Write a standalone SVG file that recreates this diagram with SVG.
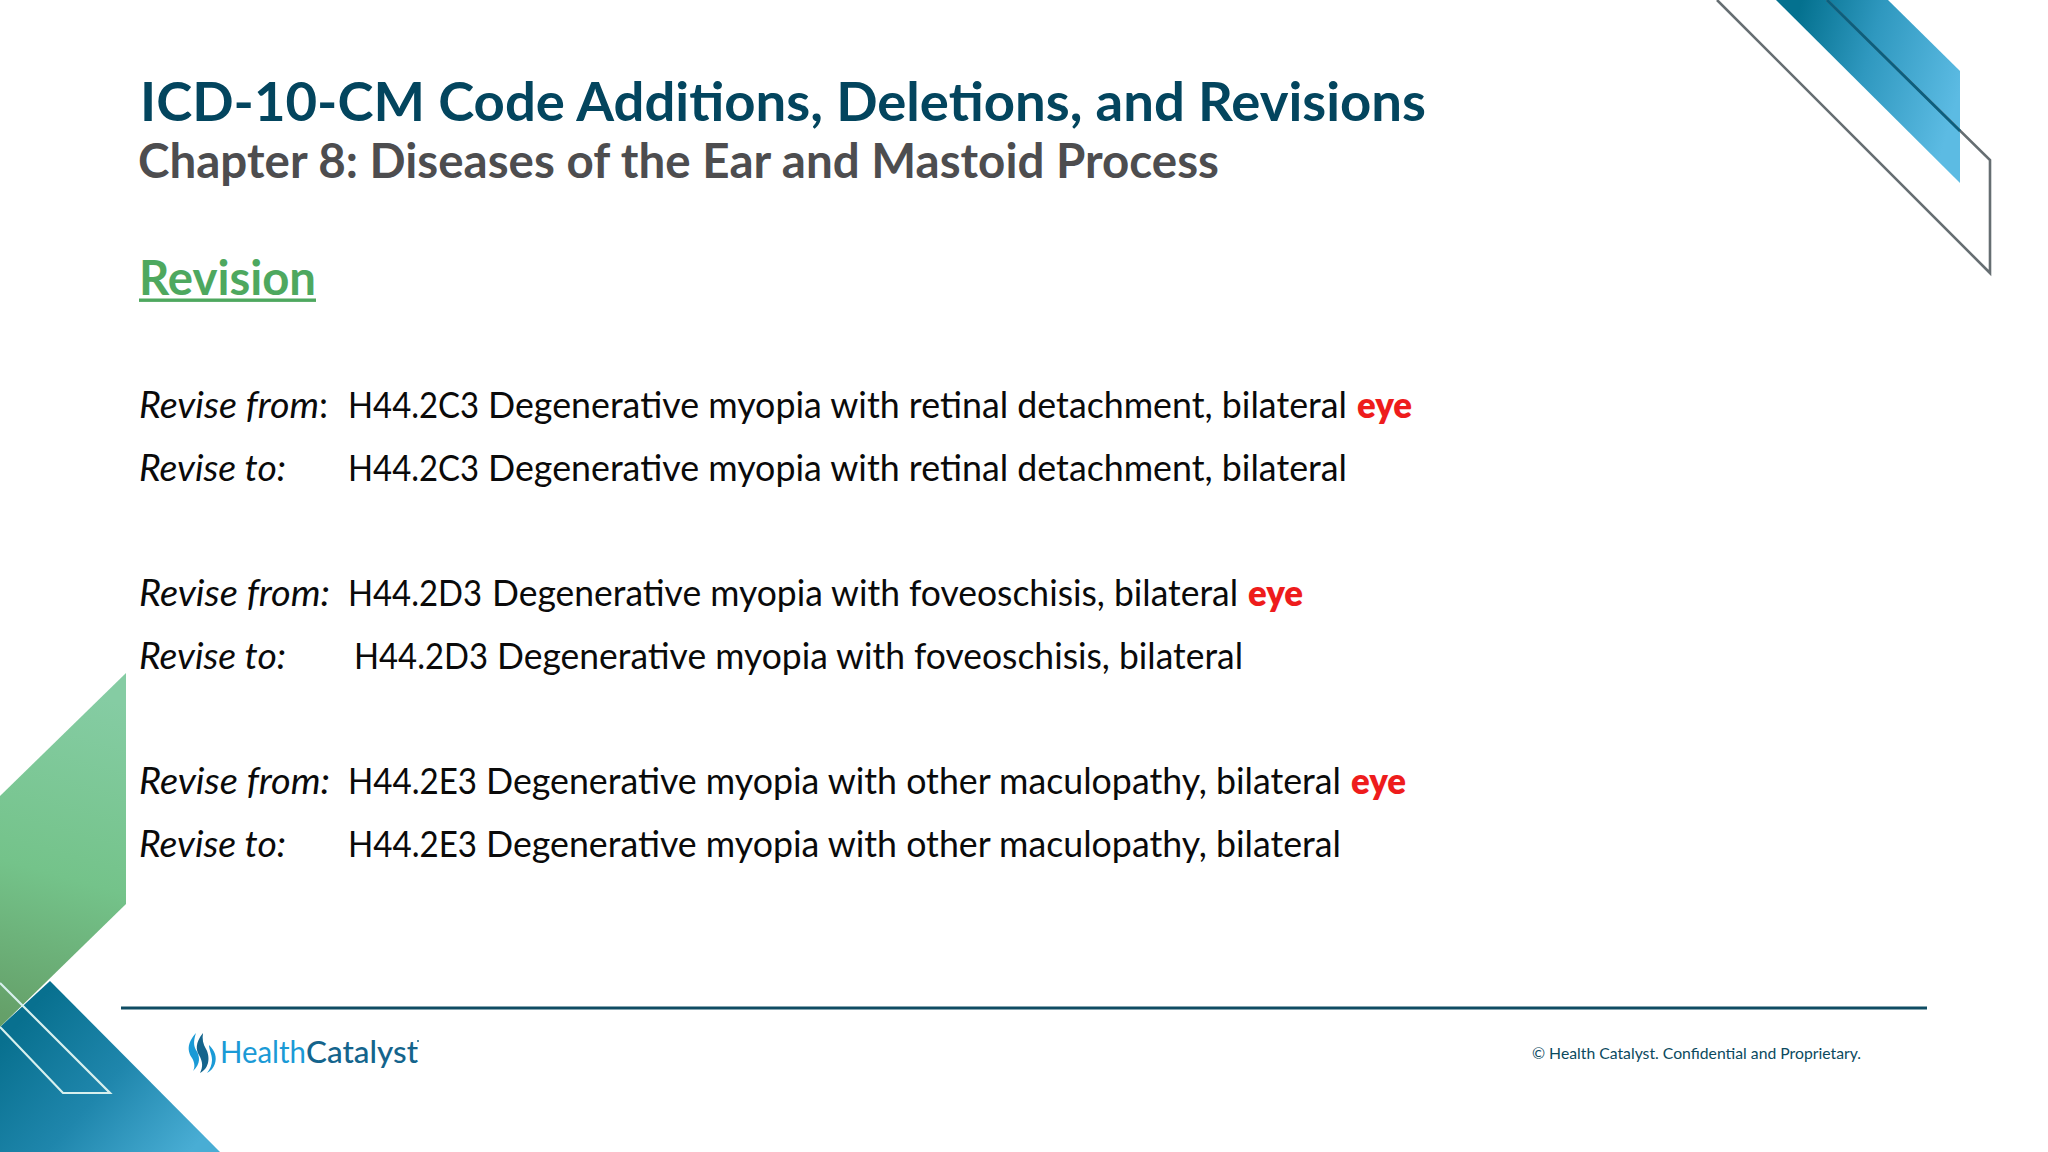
<svg xmlns="http://www.w3.org/2000/svg" width="2048" height="1152" viewBox="0 0 2048 1152">
<defs>
<linearGradient id="gTop" gradientUnits="userSpaceOnUse" x1="1790" y1="40" x2="1960" y2="90"><stop offset="0" stop-color="#04718f"/><stop offset="0.45" stop-color="#2f98bf"/><stop offset="1" stop-color="#5cbbe3"/></linearGradient>
<linearGradient id="gGreen" gradientUnits="userSpaceOnUse" x1="110" y1="700" x2="20" y2="1020"><stop offset="0" stop-color="#85cca3"/><stop offset="0.55" stop-color="#74c38a"/><stop offset="1" stop-color="#65a069"/></linearGradient>
<linearGradient id="gBlue" gradientUnits="userSpaceOnUse" x1="30" y1="1010" x2="190" y2="1152"><stop offset="0" stop-color="#08708f"/><stop offset="0.5" stop-color="#1f86ac"/><stop offset="1" stop-color="#49add4"/></linearGradient>
<style>
text{font-family:"Lato","Carlito","Noto Sans",sans-serif}
.b{font-size:36px;fill:#0a0a0a}
.i{font-size:36px;fill:#0a0a0a;font-style:italic}
.r{font-size:36px;fill:#ee1c1c;font-weight:800}
</style>
</defs>
<rect width="2048" height="1152" fill="#ffffff"/>
<g id="decor-top">
<polygon points="1776,0 1888,0 1960,71 1960,183" fill="url(#gTop)"/>
<polyline points="1717,0 1990,273 1990,160 1827,0" fill="none" stroke="#666e72" stroke-width="2.6"/>
<line x1="1827" y1="0" x2="1960" y2="131" stroke="#0b5f7e" stroke-width="2.6"/>
</g>
<g id="decor-bottom">
<polygon points="50,981 220,1152 0,1152 0,1027" fill="url(#gBlue)"/>
<polygon points="126,673 126,904 0,1027 0,796" fill="url(#gGreen)"/>
<polyline points="0,983 110,1093 63,1093 0,1027" fill="none" stroke="#d8f0ee" stroke-width="2.2"/>
</g>
<g id="heading">
<text x="140" y="121" font-size="54" font-weight="700" fill="#03455e" textLength="1286" lengthAdjust="spacingAndGlyphs">ICD-10-CM Code Additions, Deletions, and Revisions</text>
<text x="138" y="178" font-size="47" font-weight="700" fill="#4d4d4f" textLength="1081" lengthAdjust="spacingAndGlyphs">Chapter 8: Diseases of the Ear and Mastoid Process</text>
<text x="139" y="295" font-size="47" font-weight="700" fill="#4ea85f" textLength="177" lengthAdjust="spacingAndGlyphs">Revision</text>
<rect x="139" y="298.5" width="177" height="3.4" fill="#4ea85f"/>
</g>
<g id="revisions">
<text class="i" x="139" y="418" textLength="180" lengthAdjust="spacingAndGlyphs">Revise from</text><text class="b" x="319" y="418">:</text>
<text class="b" x="348" y="418" textLength="131" lengthAdjust="spacingAndGlyphs">H44.2C3</text>
<text class="b" x="488" y="418" textLength="859" lengthAdjust="spacingAndGlyphs">Degenerative myopia with retinal detachment, bilateral</text>
<text class="r" x="1357" y="418" textLength="55" lengthAdjust="spacingAndGlyphs">eye</text>
<text class="i" x="139" y="481" textLength="147" lengthAdjust="spacingAndGlyphs">Revise to:</text>
<text class="b" x="348" y="481" textLength="131" lengthAdjust="spacingAndGlyphs">H44.2C3</text>
<text class="b" x="488" y="481" textLength="859" lengthAdjust="spacingAndGlyphs">Degenerative myopia with retinal detachment, bilateral</text>
<text class="i" x="139" y="606" textLength="191" lengthAdjust="spacingAndGlyphs">Revise from:</text>
<text class="b" x="348" y="606" textLength="134" lengthAdjust="spacingAndGlyphs">H44.2D3</text>
<text class="b" x="492" y="606" textLength="746" lengthAdjust="spacingAndGlyphs">Degenerative myopia with foveoschisis, bilateral</text>
<text class="r" x="1248" y="606" textLength="55" lengthAdjust="spacingAndGlyphs">eye</text>
<text class="i" x="139" y="669" textLength="147" lengthAdjust="spacingAndGlyphs">Revise to:</text>
<text class="b" x="354" y="669" textLength="134" lengthAdjust="spacingAndGlyphs">H44.2D3</text>
<text class="b" x="497" y="669" textLength="746" lengthAdjust="spacingAndGlyphs">Degenerative myopia with foveoschisis, bilateral</text>
<text class="i" x="139" y="794" textLength="191" lengthAdjust="spacingAndGlyphs">Revise from:</text>
<text class="b" x="348" y="794" textLength="129" lengthAdjust="spacingAndGlyphs">H44.2E3</text>
<text class="b" x="486" y="794" textLength="855" lengthAdjust="spacingAndGlyphs">Degenerative myopia with other maculopathy, bilateral</text>
<text class="r" x="1351" y="794" textLength="55" lengthAdjust="spacingAndGlyphs">eye</text>
<text class="i" x="139" y="857" textLength="147" lengthAdjust="spacingAndGlyphs">Revise to:</text>
<text class="b" x="348" y="857" textLength="129" lengthAdjust="spacingAndGlyphs">H44.2E3</text>
<text class="b" x="486" y="857" textLength="855" lengthAdjust="spacingAndGlyphs">Degenerative myopia with other maculopathy, bilateral</text>
</g>
<g id="footer">
<rect x="121" y="1006.5" width="1806" height="3" fill="#0f4c63"/>
<g id="logo">
<path d="M196,1033 C186,1044 188,1052 192,1058 C195,1063 195,1068 193,1071 C201,1064 200,1056 196,1050 C193,1045 194,1039 196,1033Z" fill="#1a9ad6"/>
<path d="M203,1033 C195,1043 196,1050 199,1055 C203,1062 203,1067 200,1073 C210,1068 210,1056 206,1049 C203,1044 202,1039 203,1033Z" fill="#14648c"/>
<path d="M209,1045 C209,1050 212,1054 212,1060 C212,1065 210,1069 207,1073 C215,1069 217,1060 215,1054 C214,1051 212,1048 209,1045Z" fill="#1a9ad6"/>
<text x="220" y="1063" font-size="31" fill="#1a9ad6" textLength="86" lengthAdjust="spacingAndGlyphs">Health</text>
<text x="306" y="1063" font-size="31" fill="#14648c" font-weight="500" textLength="112" lengthAdjust="spacingAndGlyphs">Catalyst</text>
<circle cx="418" cy="1041" r="1" fill="#14648c"/>
</g>
<text x="1532" y="1059" font-size="16" fill="#0b4a5e" textLength="329" lengthAdjust="spacingAndGlyphs">© Health Catalyst. Confidential and Proprietary.</text>
</g>
</svg>
